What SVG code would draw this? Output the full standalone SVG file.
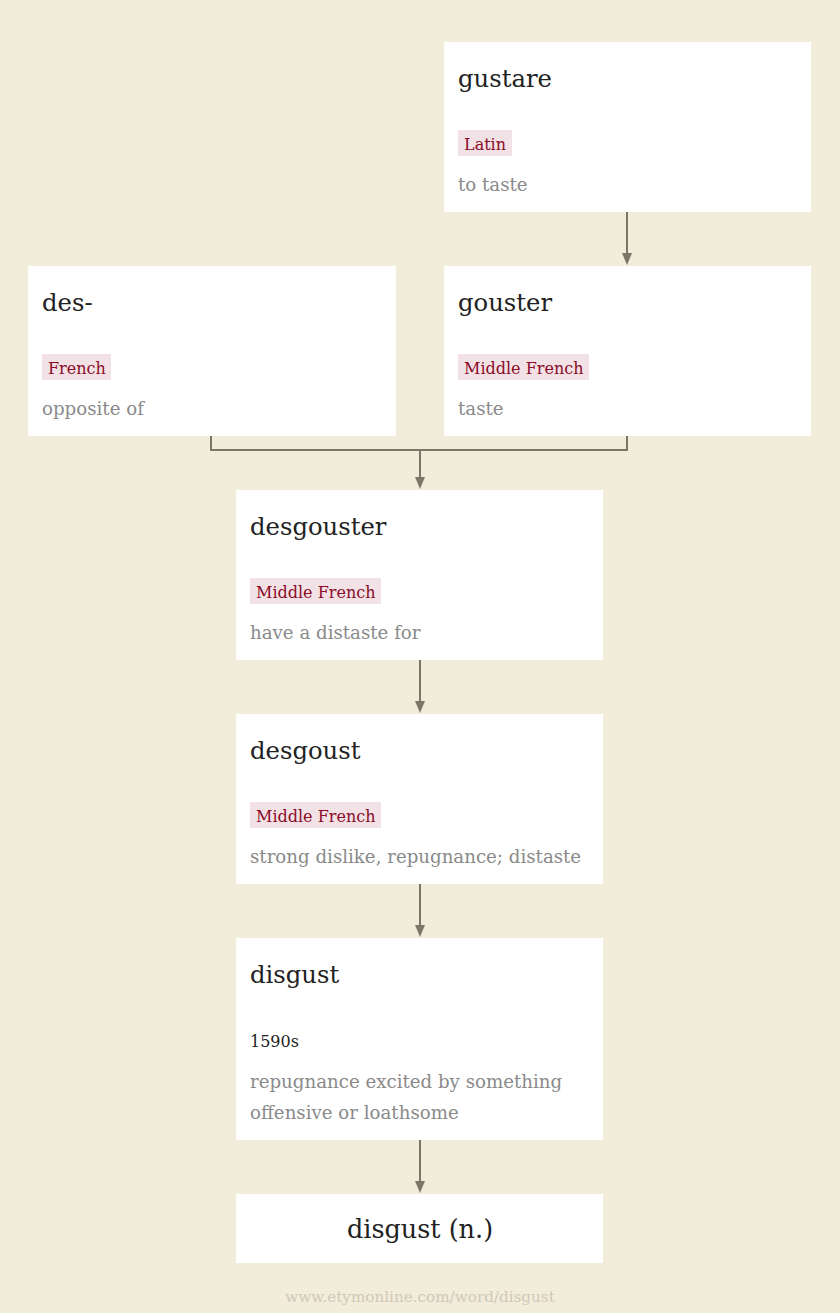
<svg xmlns="http://www.w3.org/2000/svg" width="840" height="1313" viewBox="0 0 840 1313">
<style>
.box{fill:#ffffff}
.title{font-family:"DejaVu Serif","Liberation Serif",serif;font-size:24.3px;fill:#222222}
.tagbg{fill:#f2e2e5}
.tag{font-family:"DejaVu Serif","Liberation Serif",serif;font-size:16px;fill:#8a0a28}
.desc{font-family:"DejaVu Serif","Liberation Serif",serif;font-size:18.2px;fill:#8a8a8a}
.date{font-family:"DejaVu Serif","Liberation Serif",serif;font-size:16px;fill:#222222}
.conn{fill:none;stroke:#7b7766;stroke-width:2}
.foot{font-family:"DejaVu Serif","Liberation Serif",serif;font-size:15.2px;fill:#cfc9b8}
</style>
<rect width="840" height="1313" fill="#f2ecda"/>
<g id="connectors">
<line class="conn" x1="627" y1="212" x2="627" y2="253"/>
<path d="M622,253 L632,253 L627,265 Z" fill="#7b7766"/>
<path class="conn" d="M211,436 V450 H627 V436"/>
<line class="conn" x1="420" y1="450" x2="420" y2="477"/>
<path d="M415,477 L425,477 L420,489 Z" fill="#7b7766"/>
<line class="conn" x1="420" y1="660" x2="420" y2="701"/>
<path d="M415,701 L425,701 L420,713 Z" fill="#7b7766"/>
<line class="conn" x1="420" y1="884" x2="420" y2="925"/>
<path d="M415,925 L425,925 L420,937 Z" fill="#7b7766"/>
<line class="conn" x1="420" y1="1140" x2="420" y2="1181"/>
<path d="M415,1181 L425,1181 L420,1193 Z" fill="#7b7766"/>
</g>
<g id="gustare">
<rect class="box" x="444" y="42" width="367" height="170"/>
<text class="title" x="458" y="87">gustare</text>
<rect class="tagbg" x="458" y="130" width="54" height="26"/>
<text class="tag" x="464" y="150">Latin</text>
<text class="desc" x="458" y="191">to taste</text>
</g>
<g id="des">
<rect class="box" x="28" y="266" width="368" height="170"/>
<text class="title" x="42" y="311">des-</text>
<rect class="tagbg" x="42" y="354" width="69" height="26"/>
<text class="tag" x="48" y="374">French</text>
<text class="desc" x="42" y="415">opposite of</text>
</g>
<g id="gouster">
<rect class="box" x="444" y="266" width="367" height="170"/>
<text class="title" x="458" y="311">gouster</text>
<rect class="tagbg" x="458" y="354" width="131" height="26"/>
<text class="tag" x="464" y="374">Middle French</text>
<text class="desc" x="458" y="415">taste</text>
</g>
<g id="desgouster">
<rect class="box" x="236" y="490" width="367" height="170"/>
<text class="title" x="250" y="535">desgouster</text>
<rect class="tagbg" x="250" y="578" width="131" height="26"/>
<text class="tag" x="256" y="598">Middle French</text>
<text class="desc" x="250" y="639">have a distaste for</text>
</g>
<g id="desgoust">
<rect class="box" x="236" y="714" width="367" height="170"/>
<text class="title" x="250" y="759">desgoust</text>
<rect class="tagbg" x="250" y="802" width="131" height="26"/>
<text class="tag" x="256" y="822">Middle French</text>
<text class="desc" x="250" y="863">strong dislike, repugnance; distaste</text>
</g>
<g id="disgust">
<rect class="box" x="236" y="938" width="367" height="202"/>
<text class="title" x="250" y="983">disgust</text>
<text class="date" x="250" y="1047">1590s</text>
<text class="desc" x="250" y="1088">repugnance excited by something</text>
<text class="desc" x="250" y="1119">offensive or loathsome</text>
</g>
<g id="disgust-n">
<rect class="box" x="236" y="1194" width="367" height="69"/>
<text class="title" x="420" y="1238" text-anchor="middle" style="font-size:25.5px">disgust (n.)</text>
</g>
<text class="foot" x="420" y="1302" text-anchor="middle">www.etymonline.com/word/disgust</text>
</svg>
